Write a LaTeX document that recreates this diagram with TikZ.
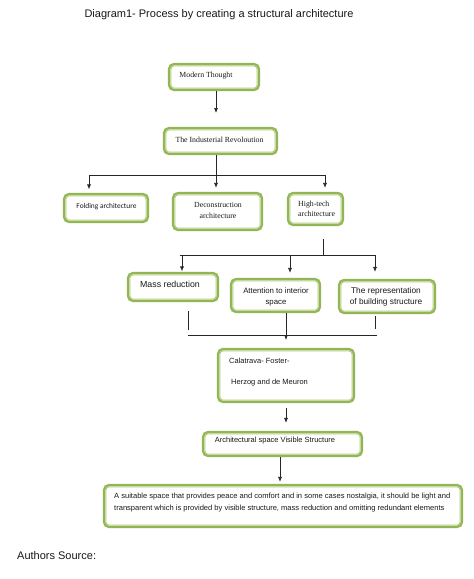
\documentclass[tikz,border=0pt]{standalone}
\usepackage{fontspec}
\setmainfont{Liberation Sans}
\newfontfamily\tms{Liberation Serif}
\newfontfamily\calib{Carlito}
\usetikzlibrary{arrows.meta}
\definecolor{gout}{HTML}{93B655}
\definecolor{gin}{HTML}{B3CE80}
\tikzset{
  gbox/.style={draw=gout, line width=2.2pt, rounded corners=5pt, inner sep=0pt,
    append after command={\pgfextra{\draw[gin, line width=1pt, rounded corners=3pt]
      ([shift={(3pt,-3pt)}]\tikzlastnode.north west) rectangle
      ([shift={(-3pt,3pt)}]\tikzlastnode.south east);}}},
  txt/.style={inner sep=0pt, text=black!90},
  con/.style={draw=black!85, line width=0.7pt},
  arr/.style={con, -{Latex[length=5pt,width=4pt]}},
}
\begin{document}
\begin{tikzpicture}[x=1pt,y=-1pt]
\useasboundingbox[fill=white] (0,0) rectangle (474,579);

\node[txt, font=\fontsize{11}{13}\selectfont] (title) at (219,15) {Diagram1- Process by creating a structural architecture};
\node[txt, anchor=west, font=\fontsize{11}{13}\selectfont] (src) at (17,556) {Authors Source:};

% boxes
\node[gbox, minimum width=90pt, minimum height=26pt] (mt) at (214,77) {};
\node[txt, font=\tms\fontsize{7.8}{9}\selectfont] (mtt) at (206,76) {Modern Thought};

\node[gbox, minimum width=113pt, minimum height=26pt] (ir) at (220.5,141) {};
\node[txt, font=\tms\fontsize{7.8}{9}\selectfont] (irt) at (219.5,139.5) {The Industerial Revoloution};

\node[gbox, minimum width=84pt, minimum height=28pt] (fold) at (106,208) {};
\node[txt, font=\calib\fontsize{7.4}{9}\selectfont] (foldt) at (106.5,206.5) {Folding architecture};

\node[gbox, minimum width=89pt, minimum height=37pt] (dec) at (217.5,211.5) {};
\node[txt, align=center, font=\tms\fontsize{7.8}{10.5}\selectfont] (dect) at (218,210.5) {Deconstruction\\architecture};

\node[gbox, minimum width=55pt, minimum height=32pt] (ht) at (315.5,209) {};
\node[txt, anchor=west, align=left, font=\tms\fontsize{7.8}{10.5}\selectfont] (htt) at (298,209) {High-tech\\architecture};

\node[gbox, minimum width=90pt, minimum height=28pt] (mass) at (173,287) {};
\node[txt, font=\fontsize{8.8}{10}\selectfont] (masst) at (170,284) {Mass reduction};

\node[gbox, minimum width=89pt, minimum height=33pt] (att) at (275.5,295.5) {};
\node[txt, align=center, font=\fontsize{7.8}{11}\selectfont] (attt) at (276,296.5) {Attention to interior\\space};

\node[gbox, minimum width=96pt, minimum height=33pt] (rep) at (387,296.5) {};
\node[txt, align=center, font=\fontsize{8.3}{10.5}\selectfont] (rept) at (386,297) {The representation\\of building structure};

\node[gbox, minimum width=136pt, minimum height=53pt] (cal) at (286,375.5) {};
\node[txt, anchor=west, font=\fontsize{7.5}{9}\selectfont] (calt1) at (229,361) {Calatrava- Foster-};
\node[txt, anchor=west, font=\fontsize{7.5}{9}\selectfont] (calt2) at (231,383) {Herzog and de Meuron};

\node[gbox, minimum width=159pt, minimum height=24pt] (asv) at (282.5,444) {};
\node[txt, font=\fontsize{7.5}{9}\selectfont] (asvt) at (275,441) {Architectural space Visible Structure};

\node[gbox, minimum width=358pt, minimum height=42pt] (fin) at (283,506) {};
\node[txt, anchor=west, align=left, font=\fontsize{7.55}{12}\selectfont] (fint) at (114,503) {A suitable space that provides peace and comfort and in some cases nostalgia, it should be light and\\transparent which is provided by visible structure, mass reduction and omitting redundant elements};

% connectors
\coordinate (a1) at (216,113);
\draw[arr] (mt.south -| a1) -- (a1);

\coordinate (j1) at (216,175);
\coordinate (hl) at (89,175);
\coordinate (hr) at (325,175);
\draw[con] (ir.south -| j1) -- (j1);
\draw[con] (hl) -- (hr);
\draw[arr, shorten >=3.5pt] (hl) -- (hl |- fold.north);
\draw[arr, shorten >=4pt] (j1) -- (j1 |- dec.north);
\draw[arr, shorten >=4pt] (hr) -- (hr |- ht.north);

\coordinate (k1) at (323,255);
\coordinate (gl) at (180,255);
\coordinate (gr) at (375,255);
\coordinate (g1) at (182,255);
\coordinate (g2) at (290,255);
\draw[con, shorten <=13pt] (ht.south -| k1) -- (k1);
\draw[con] (gl) -- (gr);
\draw[arr, shorten >=0.5pt] (g1) -- (g1 |- mass.north);
\draw[arr, shorten >=5pt] (g2) -- (g2 |- att.north);
\draw[arr, shorten >=7pt] (gr) -- (gr |- rep.north);

\coordinate (m1) at (188,330);
\coordinate (m2) at (375,329);
\coordinate (bl) at (188,335);
\coordinate (br) at (377,335);
\coordinate (n1) at (286,340);
\draw[con, shorten <=9pt] (mass.south -| m1) -- (m1);
\draw[con, shorten <=2pt] (rep.south -| m2) -- (m2);
\draw[con] (bl) -- (br);
\draw[arr] (att.south -| n1) -- (n1);

\coordinate (p1) at (286,0);
\draw[arr, shorten <=5pt, shorten >=8pt] (cal.south -| p1) -- (asv.north -| p1);
\coordinate (q1) at (280,0);
\draw[arr, shorten >=2pt] (asv.south -| q1) -- (fin.north -| q1);
\end{tikzpicture}
\end{document}
